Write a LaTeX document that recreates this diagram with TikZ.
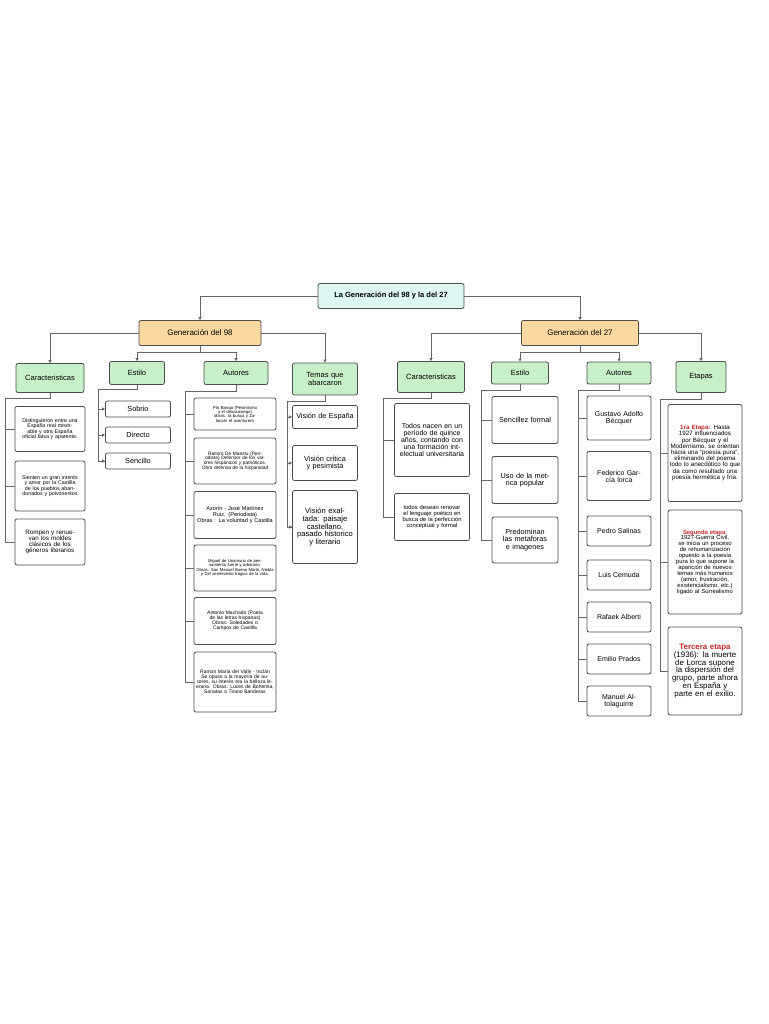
\documentclass[tikz,border=0pt]{standalone}
\usepackage{fontspec}
\setmainfont{Liberation Sans}
\usepackage{xcolor}
\usetikzlibrary{arrows.meta}
\definecolor{titlefill}{HTML}{DDF7F3}
\definecolor{genfill}{HTML}{FAD9A0}
\definecolor{catfill}{HTML}{C8F0C8}
\definecolor{etred}{HTML}{C62828}
\newcommand{\fs}[1]{\fontsize{#1}{#1}\selectfont}

\begin{document}
\begin{tikzpicture}[x=1pt,y=-1pt,
    box/.style={draw=black!70,line width=0.8pt,rounded corners=2pt,align=center,inner sep=1pt},
    title node/.style={box,fill=titlefill,font=\fs{7.5}\bfseries},
    gen node/.style={box,fill=genfill,font=\fs{8}},
    cat node/.style={box,fill=catfill,font=\fs{7.5}},
    leaf/.style={box,fill=white},
    conn/.style={draw=black!60,line width=0.8pt},
    arr/.style={conn,-{Triangle[length=3pt,width=3pt]}}]
\useasboundingbox (0,0) rectangle (768,1024);

% ---- top levels
\node[title node,minimum width=146,minimum height=25] (top) at (391,296) {La Generación del 98 y la del 27};
\node[gen node,minimum width=122,minimum height=25] (g98) at (200,333) {Generación del 98};
\node[gen node,minimum width=117,minimum height=25] (g27) at (580,333) {Generación del 27};

\node[cat node,minimum width=68,minimum height=29] (car98) at (50,378) {Caracteristicas};
\node[cat node,minimum width=55,minimum height=23] (est98) at (137,373) {Estilo};
\node[cat node,minimum width=64,minimum height=23] (aut98) at (236,373) {Autores};
\node[cat node,minimum width=65,minimum height=32,text width=60pt] (tem98) at (325,379) {Temas que abarcaron};

\node[cat node,minimum width=67,minimum height=31] (car27) at (431,377) {Caracteristicas};
\node[cat node,minimum width=57,minimum height=22] (est27) at (520,373) {Estilo};
\node[cat node,minimum width=64,minimum height=22] (aut27) at (619,373) {Autores};
\node[cat node,minimum width=50,minimum height=31] (eta27) at (701,377) {Etapas};

\draw[arr] (top.west) -| (g98.north);
\draw[arr] (top.east) -| (g27.north);
\draw[arr] (g98.west) -| (car98.north);
\draw[arr] (g98.east) -| (tem98.north);
\draw[arr] (g98.south) |- ++(0,6) -| (est98.north);
\draw[arr] (g98.south) |- ++(0,6) -| (aut98.north);
\draw[arr] (g27.west) -| (car27.north);
\draw[arr] (g27.east) -| (eta27.north);
\draw[arr] (g27.south) |- ++(0,6) -| (est27.north);
\draw[arr] (g27.south) |- ++(0,6) -| (aut27.north);

% ---- Generacion del 98: leaves
\node[leaf,minimum width=70,minimum height=45,text width=66pt,font=\fs{5.3}] (c98a) at (50,429) {Distinguieron entre una España real miserable y otra España oficial falsa y aparente.};
\node[leaf,minimum width=70,minimum height=50,text width=66pt,font=\fs{5.3}] (c98b) at (50,486) {Sienten un gran interés y amor por la Castilla de los pueblos abandonados y polvorientos};
\node[leaf,minimum width=70,minimum height=46,text width=64pt,font=\fs{6.3}] (c98c) at (50,542) {Rompen y renuevan los moldes clásicos de los géneros literarios};

\node[leaf,minimum width=65,minimum height=16,font=\fs{7.3}] (e98a) at (138,409) {Sobrio};
\node[leaf,minimum width=65,minimum height=16,font=\fs{7.3}] (e98b) at (138,435) {Directo};
\node[leaf,minimum width=65,minimum height=16,font=\fs{7.3}] (e98c) at (138,461) {Sencillo};

\node[leaf,minimum width=82,minimum height=32,text width=78pt,font=\fs{4.3}] (a98a) at (235,414) {Pío Baroja (Pesimismo y el desasosiego)\\obras: la busca y Zalacaín el aventurero};
\node[leaf,minimum width=82,minimum height=46,text width=78pt,font=\fs{4.8}] (a98b) at (235,461) {Ramiro De Maeztu (Periodista) Defensor de los valores hispánicos y patrióticos.\\Obra defensa de la hispanidad};
\node[leaf,minimum width=82,minimum height=47,text width=78pt,font=\fs{5.6}] (a98c) at (235,515) {Azorín - José Martínez Ruiz. (Periodista)\\Obras : La voluntad y Castilla};
\node[leaf,minimum width=82,minimum height=46,text width=78pt,font=\fs{4.2}] (a98d) at (235,568) {Miguel de Unamuno de pensamiento fuerte y arbitrario.\\Obras: San Manuel Bueno Mártir, Niebla y Del sentimiento trágico de la vida.};
\node[leaf,minimum width=82,minimum height=47,text width=78pt,font=\fs{5}] (a98e) at (235,621) {Antonio Machado (Poeta de las letras hispanas)\\Obras: Soledades o Campos de Castilla};
\node[leaf,minimum width=82,minimum height=60,text width=78pt,font=\fs{5}] (a98f) at (235,682) {Ramon María del Valle - Inclán\\Se opuso a la mayoría de autores, su interés era la belleza literaria. Obras: Luces de Bohemia, Sonatas o Tirano Banderas};

\node[leaf,minimum width=65,minimum height=23,text width=60pt,font=\fs{7.3}] (t98a) at (325,417) {Visión de España};
\node[leaf,minimum width=65,minimum height=35,text width=60pt,font=\fs{7.3}] (t98b) at (325,463) {Visión crítica y pesimista};
\node[leaf,minimum width=65,minimum height=73,text width=60pt,font=\fs{7.6}] (t98c) at (325,527) {Visión exaltada: paisaje castellano, pasado historico y literario};

\draw[conn] (car98.south) |- (5,398) |- (c98c.west);
\draw[conn] (5,429) -- (c98a.west);
\draw[conn] (5,486) -- (c98b.west);
\draw[conn] (est98.south) |- (98,389) |- (e98c.west);
\draw[arr] (98,409) -- (e98a.west);
\draw[arr] (98,435) -- (e98b.west);
\draw[arr] (98,461) -- (e98c.west);
\draw[conn] (aut98.south) |- (185,391) |- (a98f.west);
\draw[conn] (185,414) -- (a98a.west);
\draw[conn] (185,461) -- (a98b.west);
\draw[conn] (185,515) -- (a98c.west);
\draw[conn] (185,568) -- (a98d.west);
\draw[conn] (185,621) -- (a98e.west);
\draw[conn] (tem98.south) |- (287,401) |- (t98c.west);
\draw[arr] (287,417) -- (t98a.west);
\draw[arr] (287,463) -- (t98b.west);
\draw[arr] (287,527) -- (t98c.west);

% ---- Generacion del 27: leaves
\node[leaf,minimum width=75,minimum height=73,text width=71pt,font=\fs{7}] (c27a) at (432,440) {Todos nacen en un período de quince años, contando con una formación intelectual universitaria};
\node[leaf,minimum width=75,minimum height=47,text width=73pt,font=\fs{5.8}] (c27b) at (432,517) {todos desean renovar el lenguaje poético en busca de la perfección conceptual y formal};

\node[leaf,minimum width=66,minimum height=47,text width=62pt,font=\fs{7.3}] (e27a) at (525,420) {Sencillez formal};
\node[leaf,minimum width=66,minimum height=47,text width=62pt,font=\fs{7.3}] (e27b) at (525,480) {Uso de la metrica popular};
\node[leaf,minimum width=66,minimum height=46,text width=62pt,font=\fs{7.3}] (e27c) at (525,540) {Predominan las metaforas e imagenes};

\node[leaf,minimum width=64,minimum height=44,text width=60pt,font=\fs{7}] (a27a) at (619,418) {Gustavo Adolfo Bécquer};
\node[leaf,minimum width=64,minimum height=49,text width=60pt,font=\fs{7}] (a27b) at (619,476) {Federico García lorca};
\node[leaf,minimum width=64,minimum height=30,font=\fs{7}] (a27c) at (619,531) {Pedro Salinas};
\node[leaf,minimum width=64,minimum height=30,font=\fs{7}] (a27d) at (619,575) {Luis Cemuda};
\node[leaf,minimum width=64,minimum height=30,font=\fs{7}] (a27e) at (619,617) {Rafaek Alberti};
\node[leaf,minimum width=64,minimum height=30,font=\fs{7}] (a27f) at (619,659) {Emilio Prados};
\node[leaf,minimum width=64,minimum height=30,text width=60pt,font=\fs{7}] (a27g) at (619,701) {Manuel Altolaguirre};

\node[leaf,minimum width=74,minimum height=97,text width=71pt,font=\fs{6.2}] (t27a) at (705,453) {\textcolor{etred}{\textbf{1ra Etapa:}} Hasta 1927 influenciados por Bécquer y el Modernismo, se orientan hacia una ``poesía pura'', eliminando del poema todo lo anecdótico lo que da como resultado una poesía hermética y fría.};
\node[leaf,minimum width=74,minimum height=104,text width=71pt,font=\fs{5.9}] (t27b) at (705,562) {\textcolor{etred}{\textbf{Segunda etapa}}:\\1927-Guerra Civil, se inicia un proceso de rehumanización opuesto a la poesía pura lo que supone la aparición de nuevos temas más humanos (amor, frustración, existencialismo, etc.) ligado al Surrealismo};
\node[leaf,minimum width=74,minimum height=88,text width=71pt,font=\fs{7.9}] (t27c) at (705,671) {\textcolor{etred}{\textbf{Tercera etapa}}\\(1936): la muerte de Lorca supone la dispersión del grupo, parte ahora en España y parte en el exilio.};

\draw[conn] (car27.south) |- (383,398) |- (c27b.west);
\draw[conn] (383,440) -- (c27a.west);
\draw[conn] (est27.south) |- (481,390) |- (e27c.west);
\draw[conn] (481,420) -- (e27a.west);
\draw[conn] (481,480) -- (e27b.west);
\draw[conn] (aut27.south) |- (578,390) |- (a27g.west);
\draw[conn] (578,418) -- (a27a.west);
\draw[conn] (578,476) -- (a27b.west);
\draw[conn] (578,531) -- (a27c.west);
\draw[conn] (578,575) -- (a27d.west);
\draw[conn] (578,617) -- (a27e.west);
\draw[conn] (578,659) -- (a27f.west);
\draw[conn] (eta27.south) |- (660,399) |- (t27c.west);
\draw[conn] (660,453) -- (t27a.west);
\draw[conn] (660,562) -- (t27b.west);
\end{tikzpicture}
\end{document}
